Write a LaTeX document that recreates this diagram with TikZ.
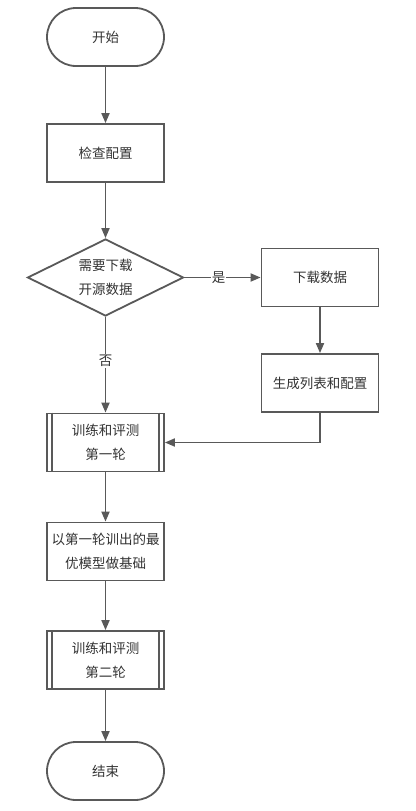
\documentclass[tikz,border=0pt]{standalone}
\usepackage{fontspec}
\newfontfamily\cjk{Noto Sans CJK SC}
\usetikzlibrary{shapes.geometric,arrows.meta}
\definecolor{linec}{HTML}{595959}
\definecolor{textc}{HTML}{333333}
\tikzset{
  base/.style={draw=linec, line width=1.8pt, text=textc, font=\cjk\fontsize{13.5}{24}\selectfont, align=center, inner sep=0pt},
  term/.style={base, minimum width=117pt, minimum height=58pt, rounded corners=29pt},
  proc/.style={base, minimum width=117pt, minimum height=58pt},
  dec/.style={base, diamond, minimum width=156pt, minimum height=77pt, aspect=2},
  conn/.style={draw=linec, line width=1.8pt, -{Triangle[length=10pt,width=8pt]}},
  lbl/.style={fill=white, text=textc, font=\cjk\fontsize{13.5}{16}\selectfont, inner sep=1pt}
}
\newcommand{\subrlines}[1]{%
  \draw[linec, line width=1.8pt] ([xshift=6pt]#1.north west) -- ([xshift=6pt]#1.south west);
  \draw[linec, line width=1.8pt] ([xshift=-6pt]#1.north east) -- ([xshift=-6pt]#1.south east);}
\begin{document}
\begin{tikzpicture}[x=1pt,y=-1pt]
\fill[white] (0,0) rectangle (415,811);
\useasboundingbox (0,0) rectangle (415,811);
\node[term] (start) at (105.5,37) {开始};
\node[proc] (check) at (105.5,153) {检查配置};
\node[dec] (need) at (105.5,277.5) {需要下载\\开源数据};
\node[proc] (dl) at (320,277.5) {下载数据};
\node[proc] (gen) at (320,383) {生成列表和配置};
\node[proc] (t1) at (105.5,442.5) {训练和评测\\第一轮};
\subrlines{t1}
\node[proc] (best) at (105.5,551.5) {以第一轮训出的最\\优模型做基础};
\node[proc] (t2) at (105.5,660) {训练和评测\\第二轮};
\subrlines{t2}
\node[term] (end) at (105.5,771) {结束};
\coordinate (turn) at (320,442.5);
\draw[conn] (start) -- (check);
\draw[conn] (check) -- (need);
\draw[conn] (need) -- node[lbl, pos=0.45] {是} (dl);
\draw[conn] (need) -- node[lbl, pos=0.46] {否} (t1);
\draw[conn] (dl) -- (gen);
\draw[conn] (gen.south) -- (turn) -- (t1.east);
\draw[conn] (t1) -- (best);
\draw[conn] (best) -- (t2);
\draw[conn] (t2) -- (end);
\end{tikzpicture}
\end{document}
